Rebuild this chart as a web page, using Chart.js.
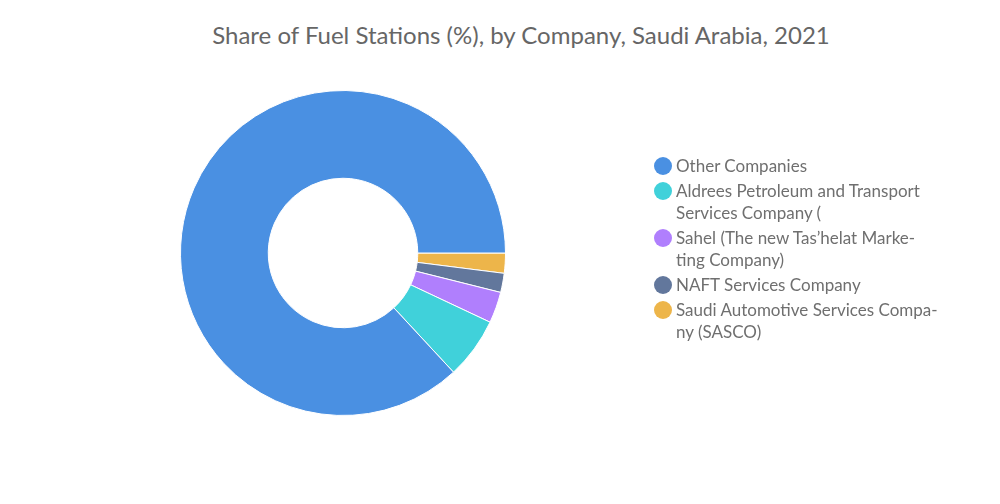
<!DOCTYPE html>
<html>
<head>
<meta charset="utf-8">
<script src="https://cdn.jsdelivr.net/npm/chart.js@4/dist/chart.umd.min.js"></script>
<style>
  html, body { margin:0; padding:0; background:#fff; }
  #wrap { position:relative; width:1000px; height:504px; overflow:hidden; font-family: Lato, "Open Sans", sans-serif; }
  #title { position:absolute; left:0; width:1042px; top:20px; text-align:center; font-size:24px; color:#666; }
  #chartBox { position:absolute; left:0; top:0; width:1000px; height:504px; }
  #legend { position:absolute; left:654px; top:155px; width:300px; color:#6f6f6f; font-size:17px; line-height:22px; }
  .item { position:relative; padding-left:22px; margin-bottom:3px; }
  .dot { position:absolute; left:0; top:2px; width:18px; height:18px; border-radius:50%; }
</style>
</head>
<body>
<div id="wrap">
  <div id="title"></div>
  <div id="chartBox"><canvas id="c"></canvas></div>
  <div id="legend"></div>
</div>
<script>
const chartTitle = "Share of Fuel Stations (%), by Company, Saudi Arabia, 2021";
const categories = [
  "Other Companies",
  "Aldrees Petroleum and Transport Services Company (",
  "Sahel (The new Tas’helat Marketing Company)",
  "NAFT Services Company",
  "Saudi Automotive Services Company (SASCO)"
];
const legendLines = [
  ["Other Companies"],
  ["Aldrees Petroleum and Transport", "Services Company ("],
  ["Sahel (The new Tas’helat Marke-", "ting Company)"],
  ["NAFT Services Company"],
  ["Saudi Automotive Services Compa-", "ny (SASCO)"]
];
const shares = [86.9, 6.1, 3.1, 1.9, 2.0];
const colors = ["#4A90E2", "#40D1DA", "#B07FFD", "#62779C", "#EDB54A"];

document.getElementById('title').textContent = chartTitle;

// legend
const lg = document.getElementById('legend');
categories.forEach((c, i) => {
  const d = document.createElement('div');
  d.className = 'item';
  const dot = document.createElement('span');
  dot.className = 'dot';
  dot.style.background = colors[i];
  d.appendChild(dot);
  legendLines[i].forEach(t => {
    const l = document.createElement('div');
    l.textContent = t;
    d.appendChild(l);
  });
  lg.appendChild(d);
});

// Drawn counter-clockwise in the original: reverse order, clockwise from 3 o'clock
const revLabels = categories.slice().reverse();
const revData = shares.slice().reverse();
const revColors = colors.slice().reverse();

new Chart(document.getElementById('c'), {
  type: 'doughnut',
  data: {
    labels: revLabels,
    datasets: [{
      data: revData,
      backgroundColor: revColors,
      borderColor: '#ffffff',
      borderWidth: 1
    }]
  },
  options: {
    responsive: true,
    maintainAspectRatio: false,
    animation: false,
    rotation: 90,
    cutout: '46%',
    layout: { padding: { left: 180, top: 90, right: 494, bottom: 88 } },
    plugins: {
      legend: { display: false },
      title: { display: false },
      tooltip: { enabled: false }
    }
  }
});
</script>
</body>
</html>
